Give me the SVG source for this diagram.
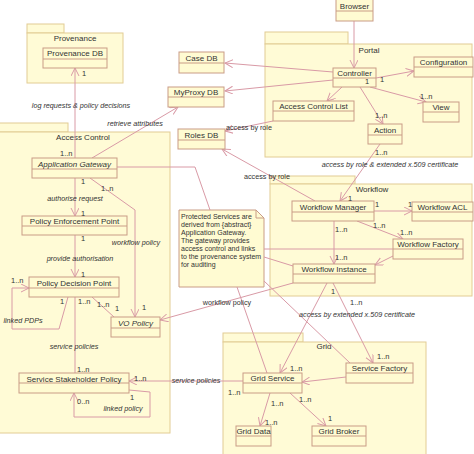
<svg xmlns="http://www.w3.org/2000/svg" width="474" height="454" viewBox="0 0 474 454">
<defs>
<marker id="a" markerUnits="userSpaceOnUse" markerWidth="10" markerHeight="10" refX="8" refY="4" orient="auto">
<path d="M0,0 L8,4 L0,8" fill="none" stroke="#d99aa6" stroke-width="1"/>
</marker>
<style>
.pk{fill:#fffbd6;stroke:#e2cc94;stroke-width:1}
.c rect{fill:#fffbd2;stroke:#c99c86;stroke-width:1}
.c line{stroke:#c99c86;stroke-width:1}
text{font-family:"Liberation Sans",Arial,sans-serif;fill:#333}
.n{font-size:8px;text-anchor:middle}
.i{font-style:italic}
.pl{font-size:8px;text-anchor:middle}
.l{font-size:7.2px;text-anchor:middle}
.m{font-size:7.5px}
.e path{fill:none;stroke:#d99aa6;stroke-width:1}
.e .ar{marker-end:url(#a)}
.note{fill:#fffbd2;stroke:#c99c86;stroke-width:1}
.nt{font-size:7px}
</style>
</defs>
<rect width="474" height="454" fill="#fff"/>

<!-- packages -->
<g id="pkg-provenance">
<rect class="pk" x="27" y="24" width="37" height="9"/>
<rect class="pk" x="27" y="33" width="96" height="50"/>
<text class="pl" x="75" y="41">Provenance</text>
</g>
<g id="pkg-portal">
<rect class="pk" x="265" y="32" width="83" height="12"/>
<rect class="pk" x="265" y="44" width="207" height="113"/>
<text class="pl" x="369" y="53">Portal</text>
</g>
<g id="pkg-access">
<rect class="pk" x="-1" y="123" width="69" height="9"/>
<rect class="pk" x="-1" y="132" width="171" height="301"/>
<text class="pl" x="83" y="140">Access Control</text>
</g>
<g id="pkg-workflow">
<rect class="pk" x="270" y="176" width="85" height="8"/>
<rect class="pk" x="270" y="184" width="202" height="112"/>
<text class="pl" x="372" y="192">Workflow</text>
</g>
<g id="pkg-grid">
<rect class="pk" x="223" y="333" width="80" height="9"/>
<rect class="pk" x="223" y="342" width="203" height="114"/>
<text class="pl" x="324" y="349">Grid</text>
</g>

<!-- note -->
<g id="note">
<path class="note" d="M179,210 L256,210 L264,218 L264,287 L179,287 Z"/>
<path d="M256,210 L256,218 L264,218" fill="none" stroke="#c99c86"/>
<text class="nt" x="181" y="219">Protected Services are</text>
<text class="nt" x="181" y="227">derived from {abstract}</text>
<text class="nt" x="181" y="235">Application Gateway.</text>
<text class="nt" x="181" y="243">The gateway provides</text>
<text class="nt" x="181" y="251">access control and links</text>
<text class="nt" x="181" y="259">to the provenance system</text>
<text class="nt" x="181" y="267">for auditing</text>
</g>

<!-- connectors -->
<g id="connectors" class="e">
<path class="ar" d="M354,21 L354,68"/>
<path class="ar" d="M333,72 L225,63"/>
<path class="ar" d="M333,80 L225,91"/>
<path class="ar" d="M376,78 L414,71"/>
<path class="ar" d="M342,87 L327,101"/>
<path class="ar" d="M360,87 L383,124"/>
<path class="ar" d="M370,87 L426,102"/>
<path class="ar" d="M273,121 L225,131"/>
<path class="ar" d="M315,201 L222,149"/>
<path class="ar" d="M380,144 L340,201"/>
<path class="ar" d="M374,211 L412,211"/>
<path class="ar" d="M357,221 L403,239"/>
<path class="ar" d="M334,221 L334,264"/>
<path class="ar" d="M393,256 L375,265"/>
<path class="ar" d="M75,158 L75,68"/>
<path class="ar" d="M92,158 L178,107"/>
<path class="ar" d="M75,178 L75,216"/>
<path class="ar" d="M90,178 L135,210 L135,317"/>
<path class="ar" d="M75,235 L75,277"/>
<path class="ar" d="M68,297 L59,329 L12,329 L12,288 L29,288"/>
<path d="M92,297 L114,317"/>
<path d="M75,297 L75,373"/>
<path class="ar" d="M129,390 L150,392 L150,417 L74,417 L74,393"/>
<path class="ar" d="M243,381 L129,381"/>
<path class="ar" d="M346,377 L302,382"/>
<path class="ar" d="M270,393 L260,426"/>
<path class="ar" d="M290,393 L326,426"/>
<path class="ar" d="M327,283 L280,373"/>
<path class="ar" d="M333,283 L373,363"/>
<path class="ar" d="M293,283 L160,320"/>
<path d="M117,167 L195,167 L210,210"/>
<path d="M264,257 L293,266"/>
<path d="M264,249 L393,249"/>
<path d="M237,287 L267,373"/>
<path d="M264,281 L350,363"/>
</g>

<!-- classes -->
<g id="provenance-db" class="c"><rect x="43" y="48" width="64" height="20"/><line x1="43" y1="59" x2="107" y2="59"/><text class="n" x="75" y="56">Provenance DB</text></g>
<g id="case-db" class="c"><rect x="179" y="52" width="45" height="21"/><line x1="179" y1="63" x2="224" y2="63"/><text class="n" x="201.5" y="60.5">Case DB</text></g>
<g id="myproxy-db" class="c"><rect x="168" y="87" width="56" height="20"/><line x1="168" y1="97" x2="224" y2="97"/><text class="n" x="196" y="95">MyProxy DB</text></g>
<g id="browser" class="c"><rect x="336" y="-1" width="37" height="22"/><line x1="336" y1="11" x2="373" y2="11"/><text class="n" x="354.5" y="8.5">Browser</text></g>
<g id="controller" class="c"><rect x="333" y="68" width="43" height="19"/><line x1="333" y1="78" x2="376" y2="78"/><text class="n" x="354.5" y="76">Controller</text></g>
<g id="configuration" class="c"><rect x="414" y="57" width="59" height="20"/><line x1="414" y1="67" x2="473" y2="67"/><text class="n" x="443.5" y="65">Configuration</text></g>
<g id="acl" class="c"><rect x="273" y="101" width="81" height="20"/><line x1="273" y1="111" x2="354" y2="111"/><text class="n" x="313.5" y="109">Access Control List</text></g>
<g id="view" class="c"><rect x="423" y="102" width="36" height="20"/><line x1="423" y1="112" x2="459" y2="112"/><text class="n" x="441" y="110">View</text></g>
<g id="action" class="c"><rect x="368" y="124" width="34" height="20"/><line x1="368" y1="135" x2="402" y2="135"/><text class="n" x="385" y="133">Action</text></g>
<g id="roles-db" class="c"><rect x="178" y="129" width="47" height="20"/><line x1="178" y1="140" x2="225" y2="140"/><text class="n" x="201.5" y="137.5">Roles DB</text></g>
<g id="app-gateway" class="c"><rect x="32" y="158" width="85" height="20"/><line x1="32" y1="169" x2="117" y2="169"/><text class="n i" x="74.5" y="167">Application Gateway</text></g>
<g id="pep" class="c"><rect x="22" y="216" width="105" height="19"/><line x1="22" y1="226" x2="127" y2="226"/><text class="n" x="74.5" y="224">Policy Enforcement Point</text></g>
<g id="pdp" class="c"><rect x="29" y="277" width="90" height="20"/><line x1="29" y1="288" x2="119" y2="288"/><text class="n" x="74" y="286">Policy Decision Point</text></g>
<g id="vo-policy" class="c"><rect x="111" y="317" width="49" height="20"/><line x1="111" y1="328" x2="160" y2="328"/><text class="n i" x="135.5" y="326">VO Policy</text></g>
<g id="ssp" class="c"><rect x="19" y="373" width="110" height="20"/><line x1="19" y1="383" x2="129" y2="383"/><text class="n" x="74" y="381.5">Service Stakeholder Policy</text></g>
<g id="wf-manager" class="c"><rect x="292" y="201" width="82" height="20"/><line x1="292" y1="212" x2="374" y2="212"/><text class="n" x="333" y="209.5">Workflow Manager</text></g>
<g id="wf-acl" class="c"><rect x="412" y="202" width="61" height="19"/><line x1="412" y1="212" x2="473" y2="212"/><text class="n" x="442.5" y="210">Workflow ACL</text></g>
<g id="wf-factory" class="c"><rect x="393" y="239" width="70" height="20"/><line x1="393" y1="249" x2="463" y2="249"/><text class="n" x="428" y="247">Workflow Factory</text></g>
<g id="wf-instance" class="c"><rect x="293" y="264" width="82" height="19"/><line x1="293" y1="274" x2="375" y2="274"/><text class="n" x="334" y="272">Workflow Instance</text></g>
<g id="grid-service" class="c"><rect x="243" y="373" width="59" height="20"/><line x1="243" y1="383" x2="302" y2="383"/><text class="n" x="272.5" y="381">Grid Service</text></g>
<g id="service-factory" class="c"><rect x="346" y="363" width="67" height="20"/><line x1="346" y1="373" x2="413" y2="373"/><text class="n" x="379.5" y="371">Service Factory</text></g>
<g id="grid-data" class="c"><rect x="236" y="426" width="35" height="20"/><line x1="236" y1="436" x2="271" y2="436"/><text class="n" x="253.5" y="434">Grid Data</text></g>
<g id="grid-broker" class="c"><rect x="312" y="426" width="54" height="20"/><line x1="312" y1="436" x2="366" y2="436"/><text class="n" x="339" y="434">Grid Broker</text></g>

<!-- labels -->
<g id="labels">
<text class="l i" x="81" y="108">log requests &amp; policy decisions</text>
<text class="l i" x="135" y="126">retrieve attributes</text>
<text class="l i" x="75" y="201">authorise request</text>
<text class="l i" x="136" y="245">workflow policy</text>
<text class="l i" x="80" y="261">provide authorisation</text>
<text class="l i" x="23" y="323">linked PDPs</text>
<text class="l i" x="74" y="349">service policies</text>
<text class="l i" x="123" y="411">linked policy</text>
<text class="l i" x="196" y="383">service policies</text>
<text class="l i" x="390" y="167">access by role &amp; extended x.509 certificate</text>
<text class="l i" x="357" y="317">access by extended x.509 certificate</text>
<text class="l" x="249" y="130">access by role</text>
<text class="l" x="267" y="179">access by role</text>
<text class="l" x="227" y="305">workflow policy</text>

<text class="m" x="82" y="76">1</text>
<text class="m" x="60" y="156">1..n</text>
<text class="m" x="81" y="184">1</text>
<text class="m" x="101" y="191">1..n</text>
<text class="m" x="81" y="216">1</text>
<text class="m" x="81" y="241">1</text>
<text class="m" x="81" y="277">1</text>
<text class="m" x="11" y="283">1..n</text>
<text class="m" x="60" y="304">1</text>
<text class="m" x="78" y="304">1..n</text>
<text class="m" x="97" y="307">1..n</text>
<text class="m" x="115" y="311">1</text>
<text class="m" x="142" y="310">1</text>
<text class="m" x="77" y="372">1..n</text>
<text class="m" x="134" y="381">1..n</text>
<text class="m" x="130" y="400">1</text>
<text class="m" x="77" y="404">0..n</text>
<text class="m" x="380" y="82">1</text>
<text class="m" x="365" y="84">1</text>
<text class="m" x="420" y="99">1..n</text>
<text class="m" x="375" y="118">1..n</text>
<text class="m" x="375" y="155">1..n</text>
<text class="m" x="348" y="201">1</text>
<text class="m" x="375" y="207">1</text>
<text class="m" x="408" y="207">1</text>
<text class="m" x="373" y="228">1..n</text>
<text class="m" x="400" y="235">1..n</text>
<text class="m" x="335" y="232">1..n</text>
<text class="m" x="335" y="260">1..n</text>
<text class="m" x="331" y="294">1</text>
<text class="m" x="350" y="305">1..n</text>
<text class="m" x="290" y="371">1..n</text>
<text class="m" x="377" y="359">1..n</text>
<text class="m" x="228" y="395">1..n</text>
<text class="m" x="271" y="406">1..n</text>
<text class="m" x="265" y="425">1..n</text>
<text class="m" x="299" y="402">1..n</text>
<text class="m" x="328" y="421">1</text>
</g>
</svg>
